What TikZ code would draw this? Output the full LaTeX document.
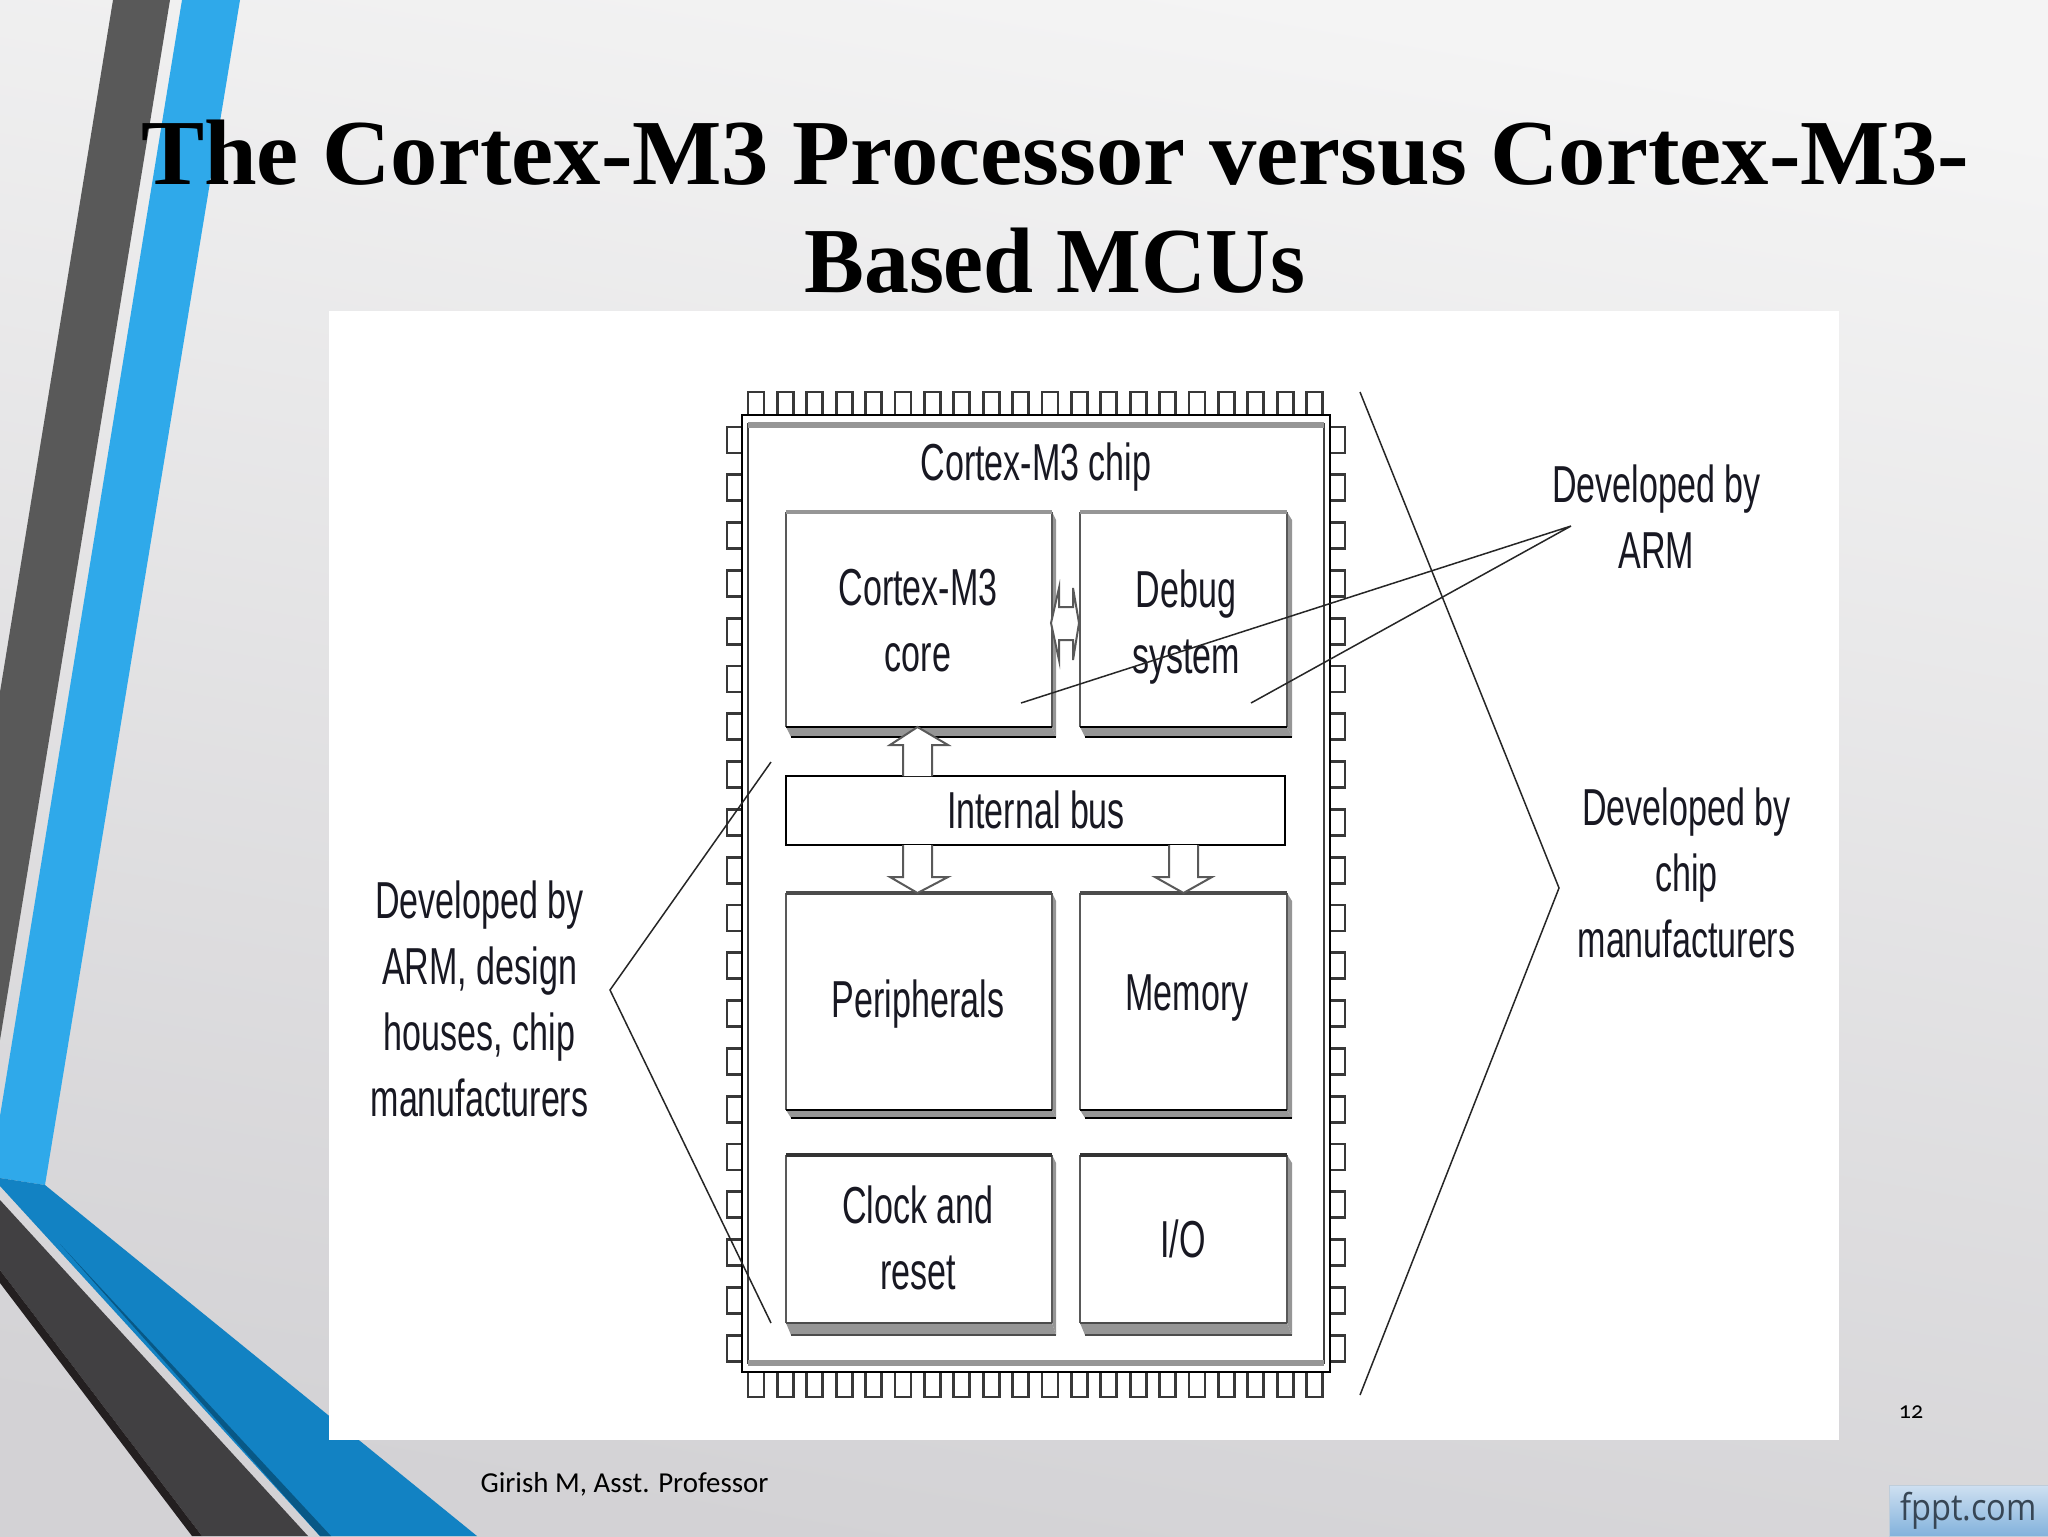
\documentclass[tikz,border=0pt]{standalone}
\usepackage{fontspec}
\setmainfont{Liberation Sans}
\newfontfamily\diagfont[FakeStretch=0.655]{Liberation Sans}
\newfontfamily\titlefont[FakeStretch=1.018]{Liberation Serif}
\newfontfamily\titlefontb[FakeStretch=0.966]{Liberation Serif}
\newfontfamily\footfont{Carlito}
\newfontfamily\numfont[Numbers=OldStyle]{Carlito}
\newfontfamily\fpptfont[FakeStretch=0.88]{Open Sans}
\definecolor{bgtop}{RGB}{244,244,244}
\definecolor{bgbot}{RGB}{211,210,213}
\definecolor{stripedark}{RGB}{89,89,89}
\definecolor{stripeblue}{RGB}{47,169,234}
\definecolor{lowblue}{RGB}{18,130,195}
\definecolor{lowblued}{RGB}{8,88,134}
\definecolor{lowgray}{RGB}{65,64,66}
\definecolor{lowblack}{RGB}{35,31,32}
\definecolor{bevel}{RGB}{150,150,150}
\definecolor{inkd}{RGB}{24,24,34}
\definecolor{fpptt}{RGB}{207,224,241}
\definecolor{fpptb}{RGB}{130,178,220}
\definecolor{fppttxt}{RGB}{55,70,85}
\tikzset{
  lbl/.style={font=\diagfont\fontsize{26}{33}\selectfont,text=inkd,align=center,inner sep=0pt},
  face/.style={fill=white,draw=none,inner sep=0pt,outer sep=0pt},
  pinbox/.style={draw=black!78,line width=1.35pt,fill=white},
  leader/.style={draw=black!85,line width=0.75pt},
  hollow/.style={draw=black!65,line width=1pt,fill=white,line join=miter},
}
% name, x1, y1, x2, y2, x3, y3, top colour, bottom colour
\newcommand{\bevelbox}[9]{%
  \fill[bevel] (#4,#3) -- (#6,#3+8) -- (#6,#7) -- (#4,#5) -- cycle;
  \fill[bevel] (#2,#5) -- (#2+5,#7) -- (#6,#7) -- (#4,#5) -- cycle;
  \draw[#9,line width=1.1pt] (#2+5,#7) -- (#6,#7);
  \node[face,minimum width={(#4-#2)*0.5pt},minimum height={(#5-#3)*0.5pt}] (#1) at ({(#2+#4)/2},{(#3+#5)/2}) {};
  \draw[black!65,line width=1pt] (#2,#3) -- (#2,#5);
  \draw[black!65,line width=0.7pt] (#4,#3) -- (#4,#5);
  \draw[#8,line width=1.6pt] (#2,#3) -- (#4,#3);
  \draw[#9,line width=1.3pt] (#2,#5) -- (#4,#5);
}
\begin{document}
\begin{tikzpicture}[x=0.5pt,y=-0.5pt]
\useasboundingbox (0,0) rectangle (2048,1536);
\shade[top color=bgtop,bottom color=bgbot,shading angle=-10] (0,0) rectangle (2048,1536);
% decorative stripes
\fill[stripedark] (113,0) -- (170,0) -- (0,1040) -- (0,692) -- cycle;
\fill[stripeblue] (182,0) -- (240,0) -- (45,1185) -- (0,1178) -- (0,1116) -- cycle;
\fill[lowblue] (0,1178) -- (45,1185) -- (477,1536) -- (320,1536) -- (0,1186) -- cycle;
\fill[lowblued] (60,1244) -- (331,1536) -- (320,1536) -- cycle;
\fill[lowgray] (0,1200) -- (308,1536) -- (202,1536) -- (0,1270) -- cycle;
\fill[lowblack] (0,1270) -- (202,1536) -- (192,1536) -- (0,1283) -- cycle;
% white picture area
\fill[white] (329,311) rectangle (1839,1440);
% title
\node[font=\bfseries\fontsize{46.5}{54}\selectfont,align=center,inner sep=0pt,text=black] (title) at (1055,207)
  {\titlefont\bfseries The Cortex-M3 Processor versus Cortex-M3-\\\titlefontb\bfseries Based MCUs};
% pins
\foreach \i in {0,...,19}{
  \draw[pinbox] ({748+\i*29.4},415) -- ({748+\i*29.4},392) -- ({764+\i*29.4},392) -- ({764+\i*29.4},415);
  \draw[pinbox] ({748+\i*29.4},1372) -- ({748+\i*29.4},1397) -- ({764+\i*29.4},1397) -- ({764+\i*29.4},1372);
  \draw[pinbox] (741,{427+\i*47.8}) -- (727,{427+\i*47.8}) -- (727,{453+\i*47.8}) -- (741,{453+\i*47.8});
  \draw[pinbox] (1330,{427+\i*47.8}) -- (1345,{427+\i*47.8}) -- (1345,{453+\i*47.8}) -- (1330,{453+\i*47.8});
}
% chip body
\node[draw=black,line width=1pt,fill=white,inner sep=0pt,outer sep=0pt,minimum width=294pt,minimum height=478.5pt] (chip) at (1035.5,893.5) {};
\draw[black!75,line width=0.8pt,fill=white] (748,424) rectangle (1324,1363);
\fill[bevel] (748,422) rectangle (1324,428);
\fill[bevel] (748,1360) rectangle (1324,1366);
\node[lbl] (chiplabel) at (1036,467) {Cortex-M3 chip};
% boxes
\bevelbox{core}{786}{512}{1052}{727}{1056}{737}{bevel}{black}
\bevelbox{debug}{1080}{512}{1287}{727}{1292}{737}{bevel}{black}
\bevelbox{periph}{786}{893}{1052}{1110}{1056}{1118}{black!70}{black}
\bevelbox{memory}{1080}{893}{1287}{1110}{1292}{1118}{black!70}{black}
\bevelbox{clock}{786}{1155}{1052}{1323}{1056}{1335}{black!80}{black!70}
\bevelbox{io}{1080}{1155}{1287}{1323}{1292}{1335}{black!80}{black!70}
\node[draw=black,line width=1pt,fill=white,inner sep=0pt,outer sep=0pt,minimum width=249.5pt,minimum height=34.5pt] (bus) at (1035.5,810.5) {};
% block arrows
\draw[hollow] (903,776) -- (903,745) -- (890,745) -- (917.5,727) -- (948,745) -- (932,745) -- (932,776);
\draw[hollow] (903,845) -- (903,877) -- (890,877) -- (917.5,893) -- (948,877) -- (932,877) -- (932,845);
\draw[hollow] (1169,845) -- (1169,877) -- (1155,877) -- (1183.5,893) -- (1212,877) -- (1198,877) -- (1198,845);
\draw[hollow] (1051,623) -- (1059,588) -- (1059,607) -- (1073,607) -- (1073,588) -- (1079,623) -- (1073,660) -- (1073,640) -- (1059,640) -- (1059,660) -- cycle;
% labels
\node[lbl] (corelabel) at (918,621) {Cortex-M3\\core};
\node[lbl] (debuglabel) at (1186,627) {Debug\\system};
\node[lbl] (buslabel) at (1036,810) {Internal bus};
\node[lbl] (periphlabel) at (918,1004) {Peripherals};
\node[lbl] (memlabel) at (1187,998) {Memory};
\node[lbl] (clocklabel) at (918,1238) {Clock and\\reset};
\node[lbl] (iolabel) at (1183,1239) {I/O};
\node[lbl] (armlabel) at (1656.5,517) {Developed by\\ARM};
\node[lbl] (chipmaker) at (1686.5,873) {Developed by\\chip\\manufacturers};
\node[lbl] (alllabel) at (479.5,999) {Developed by\\ARM, design\\houses, chip\\manufacturers};
% leader lines
\coordinate (armapex) at (1571,526);
\coordinate (armcore) at (1021,703);
\coordinate (armdebug) at (1251,703);
\coordinate (rtop) at (1360,392);
\coordinate (rapex) at (1559,888);
\coordinate (rbot) at (1360,1395);
\coordinate (ltop) at (771,762);
\coordinate (lapex) at (610,990);
\coordinate (lbot) at (771,1323);
\draw[leader] (armcore) -- (armapex) -- (armdebug);
\draw[leader] (rtop) -- (rapex) -- (rbot);
\draw[leader] (ltop) -- (lapex) -- (lbot);
% footer
\node[font=\footfont\fontsize{14.45}{16}\selectfont,text=black,inner sep=0pt] (footer) at (624.5,1484) {Girish M, Asst. Professor};
\node[font=\numfont\fontsize{12}{14}\selectfont,text=black,inner sep=0pt] (pageno) at (1911,1412) {12};
\node[top color=fpptt,bottom color=fpptb,minimum width=79.5pt,minimum height=25.5pt,inner sep=0pt,outer sep=0pt,draw=fpptt!80!gray,line width=0.4pt,
  font=\fpptfont\fontsize{18.5}{22}\selectfont,text=fppttxt] (fppt) at (1968.5,1510.5) {fppt.com};
\end{tikzpicture}
\end{document}
